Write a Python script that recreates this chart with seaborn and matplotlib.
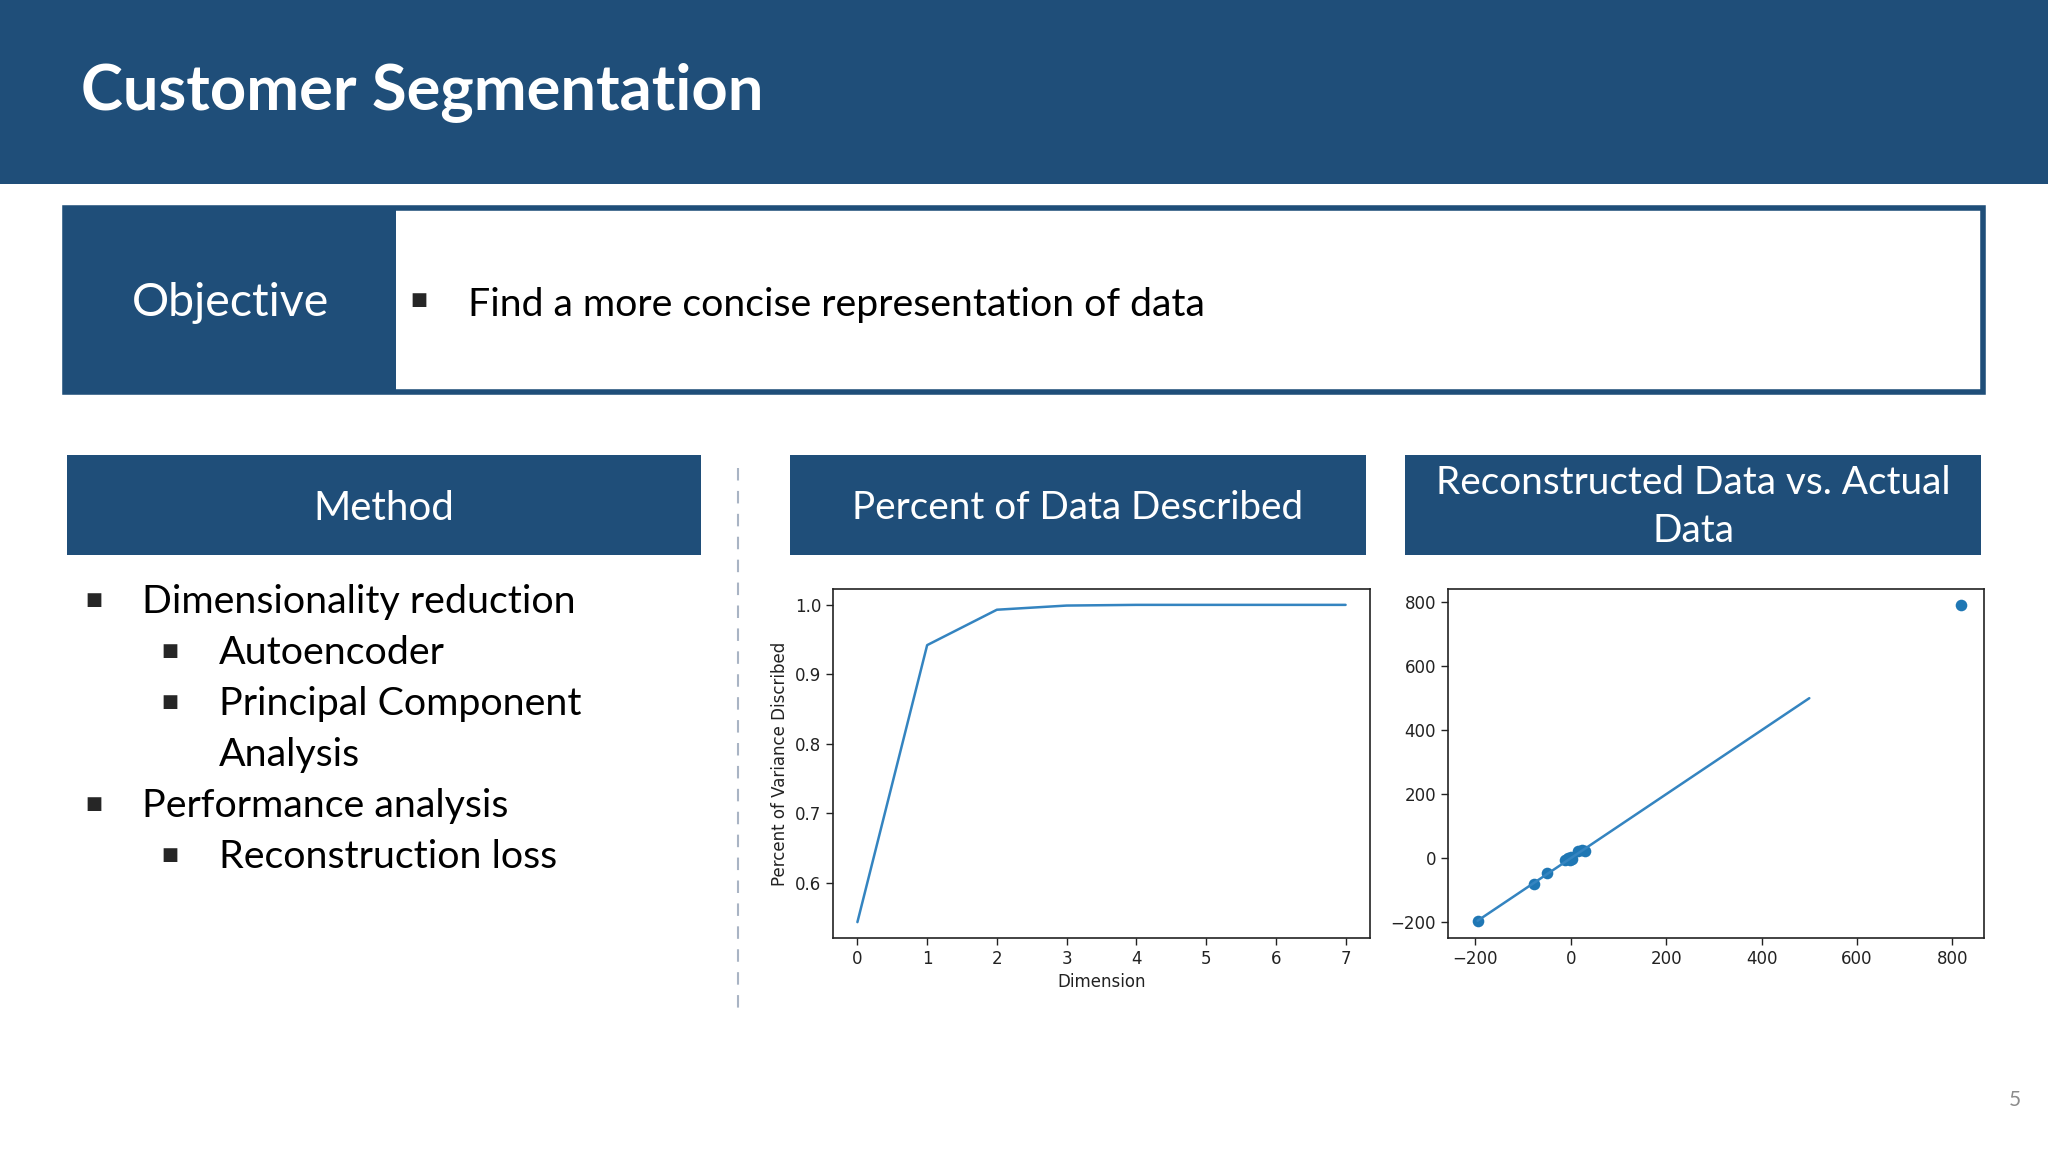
import matplotlib
matplotlib.use("Agg")
import matplotlib.pyplot as plt
import seaborn as sns
import pandas as pd
from matplotlib.patches import Rectangle

# data
dims = [0, 1, 2, 3, 4, 5, 6, 7]
variance = [0.543, 0.942, 0.993, 0.999, 1.0, 1.0, 1.0, 1.0]

actual = [-194, -76, -50, -12, -6, -2, 1, 3, 16, 24, 30, 817]
reconstructed = [-196, -79, -45, -5, 2, -4, 5, -3, 23, 25, 24, 792]
fit_x = [-195, 500]
fit_y = [-195, 500]

method_items = [
    (0, "Dimensionality reduction"),
    (1, "Autoencoder"),
    (1, "Principal Component"),
    (2, "Analysis"),
    (0, "Performance analysis"),
    (1, "Reconstruction loss"),
]

sns.set_style("ticks")
plt.rcParams["font.family"] = ["Lato", "DejaVu Sans"]

BLUE = "#1f4e79"
W, H = 2048, 1152
fig = plt.figure(figsize=(20.48, 11.52), dpi=100)
fig.patch.set_facecolor("white")

# slide background layer, pixel coordinates
bg = fig.add_axes([0, 0, 1, 1])
bg.set_xlim(0, W)
bg.set_ylim(H, 0)
bg.axis("off")

# header band
bg.add_patch(Rectangle((0, 0), W, 184, color=BLUE, lw=0))
bg.text(81, 92, "Customer Segmentation", color="white", fontsize=45.5,
        fontweight="bold", va="center", ha="left")

# objective box
bg.add_patch(Rectangle((65, 208), 1918, 184, facecolor="white", edgecolor=BLUE, lw=4))
bg.add_patch(Rectangle((63, 206), 333, 188, color=BLUE, lw=0))
bg.text(230, 303, "Objective", color="white", fontsize=33.5, ha="center", va="center")
bg.text(419, 300, "■", fontsize=13, ha="center", va="center",
        family=["DejaVu Sans"])
bg.text(468, 305, "Find a more concise representation of data", fontsize=28.3,
        ha="left", va="center", color="black")

# section headers
bg.add_patch(Rectangle((67, 455), 634, 100, color=BLUE, lw=0))
bg.text(384, 508, "Method", color="white", fontsize=29, ha="center", va="center")
bg.add_patch(Rectangle((790, 455), 576, 100, color=BLUE, lw=0))
bg.text(1078, 508, "Percent of Data Described", color="white", fontsize=27.8,
        ha="center", va="center")
bg.add_patch(Rectangle((1405, 455), 576, 100, color=BLUE, lw=0))
bg.text(1693, 507, "Reconstructed Data vs. Actual\nData", color="white", fontsize=27.9,
        ha="center", va="center", linespacing=1.38)

# dashed divider
bg.plot([738, 738], [468, 1013], color="#a9b4c4", lw=1.5, ls=(0, (6, 5)))

# method bullets
y = 602
for level, item in method_items:
    if level == 0:
        bx, tx = 94, 142
    else:
        bx, tx = 170, 219
    if level < 2:
        bg.text(bx, y - 2, "■", fontsize=13, ha="center", va="center",
                family=["DejaVu Sans"])
    bg.text(tx, y, item, fontsize=28.4, ha="left", va="center", color="black")
    y += 51

# page number
bg.text(2015, 1100, "5", fontsize=15, color="#8c8c8c", ha="center", va="center")

tick_font = ["DejaVu Sans"]

# left chart: cumulative variance
ax1 = fig.add_axes([833 / W, 1 - 938 / H, 537 / W, 349 / H])
df1 = pd.DataFrame({"Dimension": dims, "Variance": variance})
sns.lineplot(data=df1, x="Dimension", y="Variance", ax=ax1, color="#3484c0", lw=1.8)
ax1.set_xlabel("Dimension", fontsize=12, family=tick_font, color="#222222")
ax1.set_ylabel("Percent of Variance Discribed", fontsize=12, family=tick_font,
               color="#222222")
ax1.set_yticks([0.6, 0.7, 0.8, 0.9, 1.0])

# right chart: reconstructed vs actual
ax2 = fig.add_axes([1448 / W, 1 - 938 / H, 536 / W, 349 / H])
df2 = pd.DataFrame({"actual": actual, "reconstructed": reconstructed})
sns.lineplot(x=fit_x, y=fit_y, ax=ax2, color="#3484c0", lw=1.8)
sns.scatterplot(data=df2, x="actual", y="reconstructed", ax=ax2, color="#1f77b4",
                s=70, linewidth=0)
ax2.set_xlim(-257, 866)
ax2.set_ylim(-249, 841)
ax2.set_xticks([-200, 0, 200, 400, 600, 800])
ax2.set_yticks([-200, 0, 200, 400, 600, 800])
ax2.set_xlabel("")
ax2.set_ylabel("")

for ax in (ax1, ax2):
    for s in ax.spines.values():
        s.set_color("#222222")
        s.set_linewidth(1.2)
    ax.tick_params(labelsize=12, colors="#222222", length=5, width=1)
    for lab in ax.get_xticklabels() + ax.get_yticklabels():
        lab.set_family(tick_font)

fig.savefig("out.png", dpi=100, facecolor="white")
